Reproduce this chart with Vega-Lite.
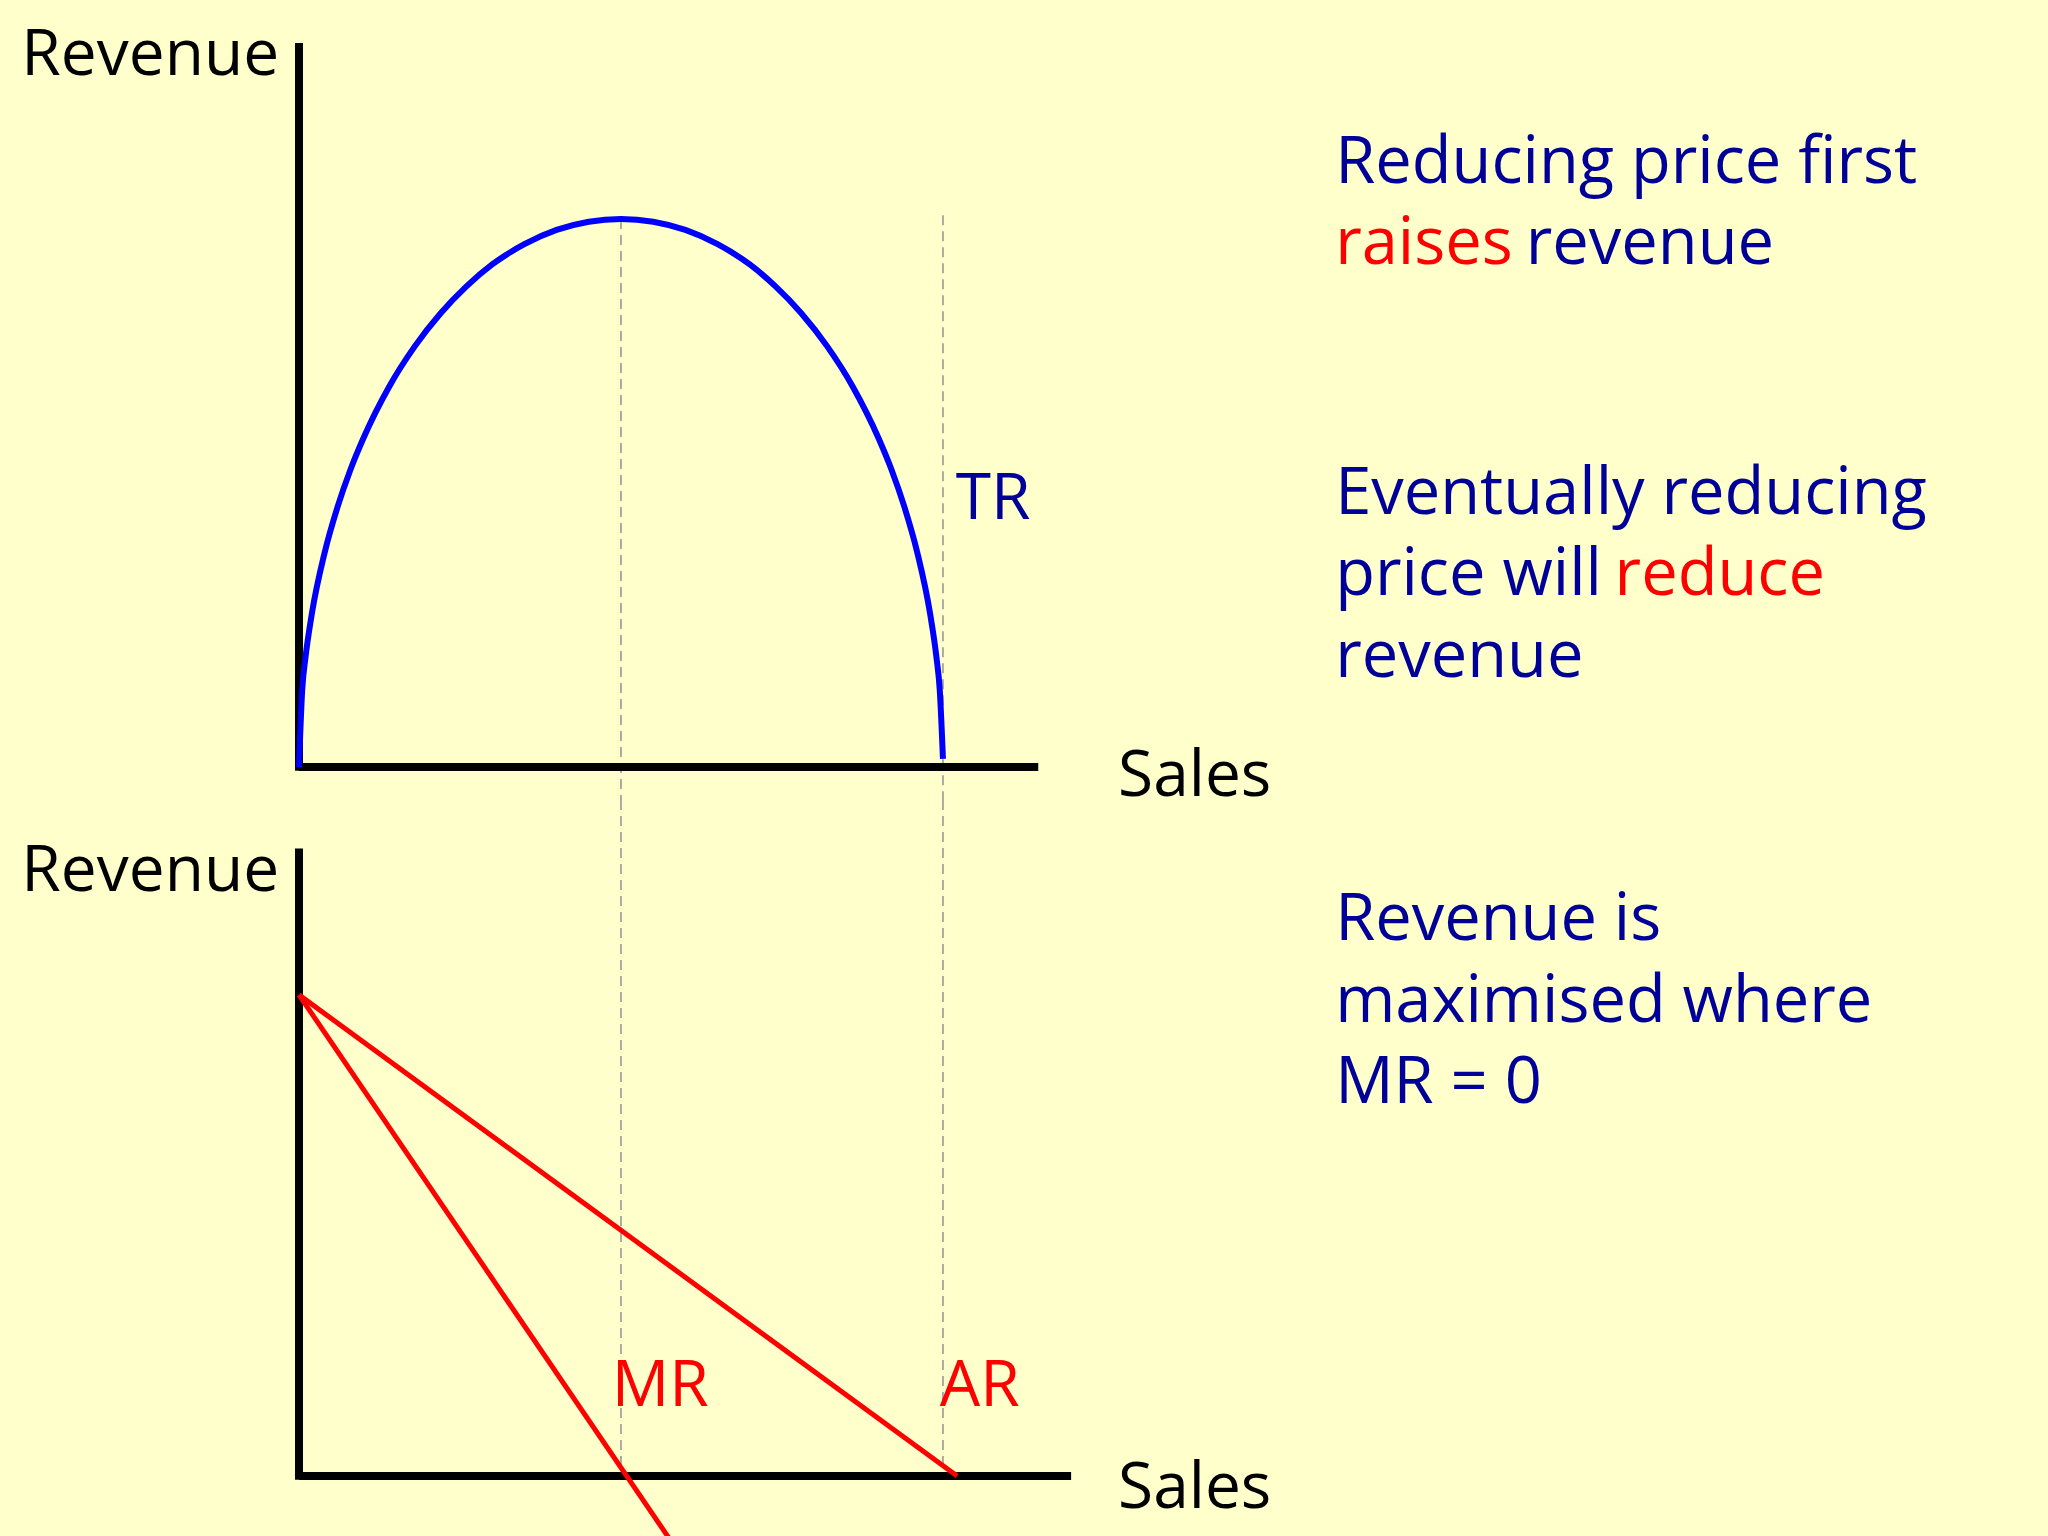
{
  "$schema": "https://vega.github.io/schema/vega-lite/v6.json",
  "description": "Total revenue (TR) rises then falls as price is cut; AR and MR below, revenue maximised where MR = 0",
  "background": "#FFFFCC",
  "padding": 0,
  "spacing": 0,
  "bounds": "flush",
  "config": {
    "view": {"stroke": null},
    "text": {"font": "Open Sans", "fontSize": 62}
  },
  "datasets": {
    "tr": [
      {"sales": 0, "revenue": 0},
      {"sales": 0.5, "revenue": 14.1},
      {"sales": 1, "revenue": 19.9},
      {"sales": 2, "revenue": 28},
      {"sales": 4, "revenue": 39.2},
      {"sales": 6, "revenue": 47.5},
      {"sales": 8, "revenue": 54.3},
      {"sales": 10, "revenue": 60},
      {"sales": 14, "revenue": 69.4},
      {"sales": 18, "revenue": 76.8},
      {"sales": 22, "revenue": 82.8},
      {"sales": 26, "revenue": 87.7},
      {"sales": 30, "revenue": 91.7},
      {"sales": 35, "revenue": 95.4},
      {"sales": 40, "revenue": 98},
      {"sales": 45, "revenue": 99.5},
      {"sales": 50, "revenue": 100},
      {"sales": 55, "revenue": 99.5},
      {"sales": 60, "revenue": 98},
      {"sales": 65, "revenue": 95.4},
      {"sales": 70, "revenue": 91.7},
      {"sales": 74, "revenue": 87.7},
      {"sales": 78, "revenue": 82.8},
      {"sales": 82, "revenue": 76.8},
      {"sales": 86, "revenue": 69.4},
      {"sales": 90, "revenue": 60},
      {"sales": 92, "revenue": 54.3},
      {"sales": 94, "revenue": 47.5},
      {"sales": 96, "revenue": 39.2},
      {"sales": 98, "revenue": 28},
      {"sales": 99, "revenue": 19.9},
      {"sales": 99.5, "revenue": 14.1},
      {"sales": 100, "revenue": 1.5}
    ],
    "axesTop": [
      {"x": 0, "x2": 0, "y": -0.7, "y2": 132.1},
      {"x": 0, "x2": 114.8, "y": 0, "y2": 0}
    ],
    "guidesTop": [
      {"x": 50, "y": 100, "y2": -6.02},
      {"x": 100, "y": 100.7, "y2": -6.02}
    ],
    "labelsTop": [
      {"label": "Revenue", "x": -23.1, "y": 129.7, "tone": "axis"},
      {"label": "Sales", "x": 139.1, "y": -1.8, "tone": "axis"},
      {"label": "TR", "x": 107.8, "y": 48.7, "tone": "note"}
    ],
    "notesTop": [
      {"label": "Reducing price first", "x": 160.9, "y": 110.2, "tone": "note"},
      {"label": "raises", "x": 160.9, "y": 95.4, "tone": "key"},
      {"label": "revenue", "x": 190.5, "y": 95.4, "tone": "note"},
      {"label": "Eventually reducing", "x": 160.9, "y": 49.8, "tone": "note"},
      {"label": "price will", "x": 160.9, "y": 35, "tone": "note"},
      {"label": "reduce", "x": 204.3, "y": 35, "tone": "key"},
      {"label": "revenue", "x": 160.9, "y": 20.1, "tone": "note"}
    ],
    "curvesBottom": [
      {"curve": "AR", "sales": 0, "revenue": 100},
      {"curve": "AR", "sales": 102.2, "revenue": 0},
      {"curve": "MR", "sales": 0, "revenue": 100},
      {"curve": "MR", "sales": 57.5, "revenue": -13}
    ],
    "axesBottom": [
      {"x": 0, "x2": 0, "y": -0.8, "y2": 130.4},
      {"x": 0, "x2": 119.9, "y": 0, "y2": 0}
    ],
    "guidesBottom": [
      {"x": 50, "y": 140.5, "y2": 0},
      {"x": 100, "y": 140.5, "y2": 0}
    ],
    "labelsBottom": [
      {"label": "Revenue", "x": -23.1, "y": 125.6, "tone": "axis"},
      {"label": "Sales", "x": 139.1, "y": -2.7, "tone": "axis"},
      {"label": "MR", "x": 56.1, "y": 18.5, "tone": "key"},
      {"label": "AR", "x": 105.7, "y": 18.5, "tone": "key"}
    ],
    "notesBottom": [
      {"label": "Revenue is", "x": 160.9, "y": 115.6, "tone": "note"},
      {"label": "maximised where", "x": 160.9, "y": 98.6, "tone": "note"},
      {"label": "MR = 0", "x": 160.9, "y": 81.6, "tone": "note"}
    ]
  },
  "vconcat": [
    {
      "width": 2048,
      "height": 800,
      "encoding": {
        "x": {"type": "quantitative", "scale": {"domain": [-46.43, 271.6], "nice": false, "zero": false}, "axis": null},
        "y": {"type": "quantitative", "scale": {"domain": [-6.02, 139.96], "nice": false, "zero": false}, "axis": null}
      },
      "layer": [
        {
          "data": {"name": "guidesTop"},
          "mark": {"type": "rule", "stroke": "#999999", "strokeWidth": 1.6, "strokeDash": [10, 6]},
          "encoding": {"x": {"field": "x"}, "y": {"field": "y"}, "y2": {"field": "y2"}}
        },
        {
          "data": {"name": "axesTop"},
          "mark": {"type": "rule", "stroke": "#000000", "strokeWidth": 8},
          "encoding": {"x": {"field": "x"}, "x2": {"field": "x2"}, "y": {"field": "y"}, "y2": {"field": "y2"}}
        },
        {
          "data": {"name": "tr"},
          "mark": {"type": "line", "stroke": "#0000FF", "strokeWidth": 6, "interpolate": "monotone"},
          "encoding": {"x": {"field": "sales"}, "y": {"field": "revenue"}, "order": {"field": "sales"}}
        },
        {
          "data": {"name": "labelsTop"},
          "mark": {"type": "text", "align": "center", "baseline": "middle", "fontSize": 64},
          "encoding": {
            "x": {"field": "x"},
            "y": {"field": "y"},
            "text": {"field": "label"},
            "color": {"field": "tone", "type": "nominal", "scale": {"domain": ["axis", "note", "key"], "range": ["#000000", "#000099", "#FF0000"]}, "legend": null}
          }
        },
        {
          "data": {"name": "notesTop"},
          "mark": {"type": "text", "align": "left", "baseline": "middle", "fontSize": 65},
          "encoding": {
            "x": {"field": "x"},
            "y": {"field": "y"},
            "text": {"field": "label"},
            "color": {"field": "tone", "type": "nominal", "scale": {"domain": ["axis", "note", "key"], "range": ["#000000", "#000099", "#FF0000"]}, "legend": null}
          }
        }
      ]
    },
    {
      "width": 2048,
      "height": 736,
      "encoding": {
        "x": {"type": "quantitative", "scale": {"domain": [-46.43, 271.6], "nice": false, "zero": false}, "axis": null},
        "y": {"type": "quantitative", "scale": {"domain": [-12.47, 140.5], "nice": false, "zero": false}, "axis": null}
      },
      "layer": [
        {
          "data": {"name": "guidesBottom"},
          "mark": {"type": "rule", "stroke": "#999999", "strokeWidth": 1.6, "strokeDash": [10, 6]},
          "encoding": {"x": {"field": "x"}, "y": {"field": "y"}, "y2": {"field": "y2"}}
        },
        {
          "data": {"name": "axesBottom"},
          "mark": {"type": "rule", "stroke": "#000000", "strokeWidth": 8},
          "encoding": {"x": {"field": "x"}, "x2": {"field": "x2"}, "y": {"field": "y"}, "y2": {"field": "y2"}}
        },
        {
          "data": {"name": "curvesBottom"},
          "mark": {"type": "line", "stroke": "#FF0000", "strokeWidth": 5, "clip": true},
          "encoding": {"x": {"field": "sales"}, "y": {"field": "revenue"}, "detail": {"field": "curve"}}
        },
        {
          "data": {"name": "labelsBottom"},
          "mark": {"type": "text", "align": "center", "baseline": "middle", "fontSize": 64},
          "encoding": {
            "x": {"field": "x"},
            "y": {"field": "y"},
            "text": {"field": "label"},
            "color": {"field": "tone", "type": "nominal", "scale": {"domain": ["axis", "note", "key"], "range": ["#000000", "#000099", "#FF0000"]}, "legend": null}
          }
        },
        {
          "data": {"name": "notesBottom"},
          "mark": {"type": "text", "align": "left", "baseline": "middle", "fontSize": 65},
          "encoding": {
            "x": {"field": "x"},
            "y": {"field": "y"},
            "text": {"field": "label"},
            "color": {"field": "tone", "type": "nominal", "scale": {"domain": ["axis", "note", "key"], "range": ["#000000", "#000099", "#FF0000"]}, "legend": null}
          }
        }
      ]
    }
  ],
  "resolve": {"scale": {"y": "independent"}}
}
